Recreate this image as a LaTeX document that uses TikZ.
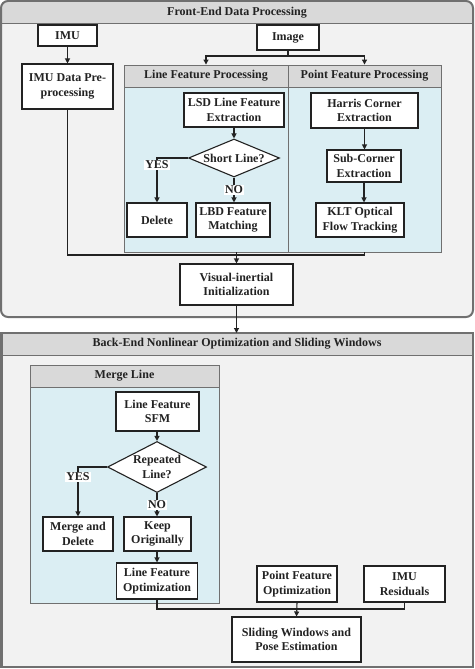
\documentclass[tikz,border=0pt]{standalone}
\usepackage{fontspec}
\setmainfont{Liberation Serif}
\usetikzlibrary{arrows.meta,shapes.geometric}
\definecolor{paneledge}{HTML}{707070}
\definecolor{titlegray}{HTML}{D9D9D9}
\definecolor{bodygray}{HTML}{F2F2F2}
\definecolor{lightblue}{HTML}{DBEEF3}
\definecolor{ink}{HTML}{222222}
\tikzset{
  x=1pt, y=-1pt,
  txt/.style={font=\bfseries\fontsize{12}{14.5}\selectfont, align=center, text=ink},
  box/.style={txt, draw=ink, line width=1.1pt, fill=white, inner sep=1pt},
  hdr/.style={txt, draw=paneledge, line width=0.9pt, fill=titlegray, inner sep=0pt},
  sub/.style={draw=paneledge, line width=0.9pt, fill=lightblue, inner sep=0pt},
  dia/.style={diamond, draw=ink, line width=1.1pt, fill=white, inner sep=0pt},
  lbl/.style={txt, fill=white, inner sep=1pt},
  conn/.style={draw=ink, line width=1.1pt},
  arr/.style={conn, -{Triangle[length=5pt,width=5pt]}},
}
\begin{document}
\begin{tikzpicture}
\useasboundingbox (0,0) rectangle (474,669);
% ---------- Front-end panel ----------
\fill[bodygray, rounded corners=7] (1,1) rectangle (473,317);
\begin{scope}
  \clip[rounded corners=7] (1,1) rectangle (473,317);
  \fill[titlegray] (1,1) rectangle (473,23);
\end{scope}
\draw[paneledge, line width=0.9pt] (1,23) -- (473,23);
\draw[paneledge, line width=2pt, rounded corners=7] (1,1) rectangle (473,317);
\node[txt] (fetitle) at (237,12.5) {Front-End Data Processing};

% sub panels
\node[sub, minimum width=164, minimum height=187] (linepanel) at (206,158.5) {};
\node[sub, minimum width=153, minimum height=187] (pointpanel) at (364.5,158.5) {};
\node[hdr, minimum width=164, minimum height=22] (linehead) at (206,76) {Line Feature Processing};
\node[hdr, minimum width=153, minimum height=22] (pointhead) at (364.5,76) {Point Feature Processing};

% boxes
\node[box, minimum width=59, minimum height=21] (imu) at (67.5,35.5) {IMU};
\node[box, minimum width=62, minimum height=25] (image) at (288,37.5) {Image};
\node[box, minimum width=91, minimum height=45] (imupre) at (67.5,86.5) {IMU Data Pre-\\processing};
\node[box, minimum width=100, minimum height=34] (lsd) at (234,110) {LSD Line Feature\\Extraction};
\node[box, minimum width=107, minimum height=35] (harris) at (364.5,110.5) {Harris Corner\\Extraction};
\node[dia, minimum width=91, minimum height=38] (short) at (234,158) {};
\node[txt] (shorttxt) at (short.center) {Short Line?};
\node[box, minimum width=60, minimum height=34] (delete) at (157,220) {Delete};
\node[box, minimum width=74, minimum height=34] (lbd) at (233,220) {LBD Feature\\Matching};
\node[box, minimum width=74, minimum height=32] (subc) at (364,166) {Sub-Corner\\Extraction};
\node[box, minimum width=88, minimum height=34] (klt) at (360,220) {KLT Optical\\Flow Tracking};
\node[box, minimum width=113, minimum height=41] (vi) at (236.5,284.5) {Visual-inertial\\Initialization};

% connectors front-end
\draw[arr] (imu) -- (imupre);
\coordinate (jimg) at (288,56);
\draw[conn] (image.south) -- (jimg);
\draw[arr] (jimg) -| (linehead.north);
\draw[arr] (jimg) -| (pointhead.north);
\draw[arr] (lsd) -- (short);
\draw[arr] (short.west) -| (delete.north);
\node[lbl] (yes1) at (157,165) {YES};
\draw[arr] (short.south) -- (short.south |- lbd.north);
\node[lbl] (no1) at (234,190) {NO};
\draw[arr] (harris.south) -- (harris.south |- subc.north);
\draw[arr] (subc.south) -- (subc.south |- klt.north);
\coordinate (jfe) at (364.5,255);
\draw[conn] (imupre.south) |- (jfe) -- (pointpanel.south);
\draw[arr] (vi.north |- linepanel.south) -- (vi.north);

% ---------- Back-end panel ----------
\fill[bodygray] (1,333) rectangle (473,667);
\fill[titlegray] (1,333) rectangle (473,355);
\draw[paneledge, line width=0.9pt] (1,355) -- (473,355);
\draw[paneledge, line width=2pt] (1,333) rectangle (473,667);
\draw[paneledge, line width=3pt] (1.5,333) -- (1.5,667);
\node[txt] (betitle) at (237,344) {Back-End Nonlinear Optimization and Sliding Windows};
\coordinate (betop) at (236.5,333);
\draw[arr] (vi.south) -- (betop);

\node[sub, minimum width=189, minimum height=238] (mergepanel) at (124.5,484) {};
\node[hdr, minimum width=189, minimum height=22] (mergehead) at (124.5,376) {Merge Line};

\node[box, minimum width=83, minimum height=39] (sfm) at (157.5,411.5) {Line Feature\\SFM};
\node[dia, minimum width=99, minimum height=51] (rep) at (157,467) {};
\node[txt] (reptxt) at (rep.center) {Repeated\\Line?};
\node[box, minimum width=70, minimum height=34] (merge) at (78,534) {Merge and\\Delete};
\node[box, minimum width=67, minimum height=34] (keep) at (157.5,534) {Keep\\Originally};
\node[box, minimum width=81, minimum height=36] (lfo) at (157,581) {Line Feature\\Optimization};
\node[box, minimum width=80, minimum height=36] (pfo) at (297,584) {Point Feature\\Optimization};
\node[box, minimum width=81, minimum height=36] (imures) at (404.5,584) {IMU\\Residuals};
\node[box, minimum width=129, minimum height=45] (sw) at (296.5,639.5) {Sliding Windows and\\Pose Estimation};

\draw[arr] (sfm.south -| rep.north) -- (rep.north);
\draw[arr] (rep.west) -| (merge.north);
\node[lbl] (yes2) at (78,477) {YES};
\draw[arr] (rep.south) -- (rep.south |- keep.north);
\node[lbl] (no2) at (157,505) {NO};
\draw[arr] (keep.south -| lfo.north) -- (lfo.north);
\coordinate (jbe) at (297,609);
\draw[conn] (lfo.south) |- (jbe) -| (imures.south);
\draw[arr] (pfo.south) -- (sw.north);
\end{tikzpicture}
\end{document}
